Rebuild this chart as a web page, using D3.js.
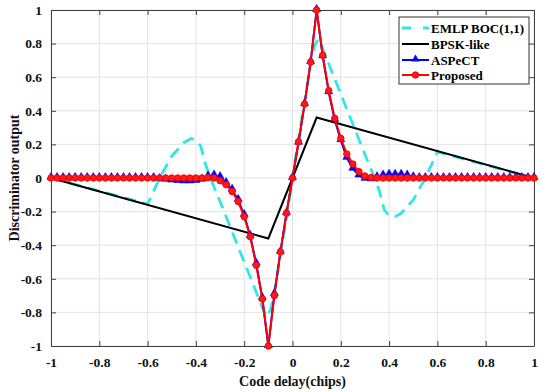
<!DOCTYPE html>
<html><head><meta charset="utf-8">
<script src="https://cdn.jsdelivr.net/npm/d3@7"></script>
<style>body{margin:0;background:#fff}svg{display:block}text{font-family:"Liberation Serif","Times New Roman",serif;font-weight:bold}</style>
</head><body><svg id="c" width="550" height="392"></svg>
<script>
// ---- data ----
const xTicks = [-1,-0.8,-0.6,-0.4,-0.2,0,0.2,0.4,0.6,0.8,1];
const yTicks = [-1,-0.8,-0.6,-0.4,-0.2,0,0.2,0.4,0.6,0.8,1];
const xLabel = "Code delay(chips)";
const yLabel = "Discriminator output";
const seriesNames = ["EMLP BOC(1,1)","BPSK-like","ASPeCT","Proposed"];

// EMLP BOC(1,1) curve (x, y)
const emlpX = [-1,-0.6,-0.55,-0.5,-0.45,-0.42,-0.4,-0.38,-0.36,-0.34,-0.3,-0.25,-0.2,-0.15,-0.12,-0.105,-0.09,-0.076,-0.053,-0.025,0,0.025,0.053,0.076,0.09,0.105,0.12,0.15,0.2,0.25,0.3,0.34,0.36,0.38,0.4,0.425,0.45,0.5,0.55,0.6,1];
const emlpY = [0,-0.155,0.0,0.13,0.21,0.235,0.225,0.19,0.08,0.0,-0.14,-0.32,-0.5,-0.68,-0.79,-0.825,-0.78,-0.69,-0.48,-0.24,0,0.24,0.48,0.69,0.78,0.825,0.79,0.68,0.5,0.32,0.14,0.0,-0.08,-0.19,-0.225,-0.23,-0.21,-0.13,0.0,0.155,0];

// BPSK-like
const bpskX = [-1,-0.1,0.1,1];
const bpskY = [0,-0.36,0.36,0];

// Sample grid for ASPeCT / Proposed : -1 .. 1 step 0.025 (81 points)
const sampleX = [-1,-0.975,-0.95,-0.925,-0.9,-0.875,-0.85,-0.825,-0.8,-0.775,-0.75,-0.725,-0.7,-0.675,-0.65,-0.625,-0.6,-0.575,-0.55,-0.525,-0.5,-0.475,-0.45,-0.425,-0.4,-0.375,-0.35,-0.325,-0.3,-0.275,-0.25,-0.225,-0.2,-0.175,-0.15,-0.125,-0.1,-0.075,-0.05,-0.025,0,0.025,0.05,0.075,0.1,0.125,0.15,0.175,0.2,0.225,0.25,0.275,0.3,0.325,0.35,0.375,0.4,0.425,0.45,0.475,0.5,0.525,0.55,0.575,0.6,0.625,0.65,0.675,0.7,0.725,0.75,0.775,0.8,0.825,0.85,0.875,0.9,0.925,0.95,0.975,1];
const aspectY = [0,0,0,0,0,0,0,0,0,0,0,0,0,0,0,0,0,0,-0.005,-0.01,-0.015,-0.018,-0.02,-0.02,-0.017,-0.01,0.01,0.015,0.005,-0.03,-0.07,-0.13,-0.22,-0.345,-0.51,-0.715,-1.0,-0.69,-0.44,-0.21,0,0.21,0.44,0.69,1.0,0.725,0.51,0.345,0.225,0.12,0.055,0.015,-0.005,-0.008,0.005,0.015,0.02,0.02,0.02,0.015,0.005,0,0,0,0,0,0,0,0,0,0,0,0,0,0,0,0,0,0,0,0];
const proposedY = [0,0,0,0,0,0,0,0,0,0,0,0,0,0,0,0,0,0,0,0,0,0,0,0,0,0,0.002,0,-0.016,-0.04,-0.08,-0.14,-0.23,-0.35,-0.52,-0.72,-1.0,-0.70,-0.44,-0.21,0,0.216,0.44,0.69,1.0,0.73,0.52,0.355,0.236,0.143,0.083,0.038,0.012,0.003,0,0,0,0,0,0,0,0,0,0,0,0,0,0,0,0,0,0,0,0,0,0,0,0,0,0,0];

// ---- drawing ----
const svg = d3.select("#c");
const L=51, R=534, T=10, B=346;
const x = d3.scaleLinear().domain([-1,1]).range([L,R]);
const y = d3.scaleLinear().domain([-1,1]).range([B,T]);

// grid
const g = svg.append("g");
g.selectAll("line.gx").data(xTicks).enter().append("line")
  .attr("x1",d=>x(d)).attr("x2",d=>x(d)).attr("y1",T).attr("y2",B)
  .attr("stroke","#e3e3e3").attr("stroke-width",1);
g.selectAll("line.gy").data(yTicks).enter().append("line")
  .attr("y1",d=>y(d)).attr("y2",d=>y(d)).attr("x1",L).attr("x2",R)
  .attr("stroke","#e3e3e3").attr("stroke-width",1);

// axes (inward ticks on all sides)
const axColor="#404040";
function styleAxis(sel){ sel.select(".domain").attr("stroke",axColor);
  sel.selectAll(".tick line").attr("stroke",axColor);
  sel.selectAll(".tick text").attr("fill","#111").style("font-size","13.5px").style("font-family","'Liberation Serif',serif").style("font-weight","bold"); }
const fmt = d=> String(d);
svg.append("g").attr("transform",`translate(0,${B})`)
  .call(d3.axisBottom(x).tickValues(xTicks).tickFormat(fmt).tickSizeInner(-5).tickSizeOuter(0).tickPadding(11))
  .call(styleAxis);
svg.append("g").attr("transform",`translate(0,${T})`)
  .call(d3.axisTop(x).tickValues(xTicks).tickFormat("").tickSizeInner(-5).tickSizeOuter(0))
  .call(styleAxis);
svg.append("g").attr("transform",`translate(${L},0)`)
  .call(d3.axisLeft(y).tickValues(yTicks).tickFormat(fmt).tickSizeInner(-5).tickSizeOuter(0).tickPadding(9))
  .call(styleAxis);
svg.append("g").attr("transform",`translate(${R},0)`)
  .call(d3.axisRight(y).tickValues(yTicks).tickFormat("").tickSizeInner(-5).tickSizeOuter(0))
  .call(styleAxis);

const line = d3.line().x(d=>x(d[0])).y(d=>y(d[1]));
const emlp = emlpX.map((v,i)=>[v,emlpY[i]]);
const bpsk = bpskX.map((v,i)=>[v,bpskY[i]]);
const asp = sampleX.map((v,i)=>[v,aspectY[i]]);
const prop = sampleX.map((v,i)=>[v,proposedY[i]]);

svg.append("path").attr("d",line(emlp)).attr("fill","none").attr("stroke","#33e6e6")
  .attr("stroke-width",2.8).attr("stroke-dasharray","12,7");
svg.append("path").attr("d",line(bpsk)).attr("fill","none").attr("stroke","#000").attr("stroke-width",2);
svg.append("path").attr("d",line(asp)).attr("fill","none").attr("stroke","#0000ff").attr("stroke-width",2);
const tri = d3.symbol().type(d3.symbolTriangle).size(28);
svg.append("g").selectAll("path").data(asp).enter().append("path")
  .attr("d",tri).attr("transform",d=>`translate(${x(d[0])},${y(d[1])-0.8})`)
  .attr("fill","#0000ff").attr("stroke","#0000ff").attr("stroke-width",0.6);
svg.append("path").attr("d",line(prop)).attr("fill","none").attr("stroke","#ff0000").attr("stroke-width",2);
svg.append("g").selectAll("circle").data(prop).enter().append("circle")
  .attr("cx",d=>x(d[0])).attr("cy",d=>y(d[1])).attr("r",3.2)
  .attr("fill","#ff1a1a").attr("stroke","#ff0000").attr("stroke-width",1);

// legend
const lg = svg.append("g");
const lx0=399, ly0=17, lw=130, lh=67;
lg.append("rect").attr("x",lx0).attr("y",ly0).attr("width",lw).attr("height",lh)
  .attr("fill","#fff").attr("stroke","#333").attr("stroke-width",1);
const rows=[28,44,60,75];
const sx1=402, sx2=429;
lg.append("line").attr("x1",sx1).attr("x2",sx2).attr("y1",rows[0]).attr("y2",rows[0])
  .attr("stroke","#33e6e6").attr("stroke-width",2.8).attr("stroke-dasharray","9,12");
lg.append("line").attr("x1",sx1).attr("x2",sx2).attr("y1",rows[1]).attr("y2",rows[1])
  .attr("stroke","#000").attr("stroke-width",2);
lg.append("line").attr("x1",sx1).attr("x2",sx2).attr("y1",rows[2]).attr("y2",rows[2])
  .attr("stroke","#0000ff").attr("stroke-width",2);
lg.append("path").attr("d",tri).attr("transform",`translate(${(sx1+sx2)/2},${rows[2]-0.8})`).attr("fill","#0000ff");
lg.append("line").attr("x1",sx1).attr("x2",sx2).attr("y1",rows[3]).attr("y2",rows[3])
  .attr("stroke","#ff0000").attr("stroke-width",2);
lg.append("circle").attr("cx",(sx1+sx2)/2).attr("cy",rows[3]).attr("r",3.2).attr("fill","#ff1a1a").attr("stroke","#f00");
lg.selectAll("text").data(seriesNames).enter().append("text")
  .attr("x",431).attr("y",(d,i)=>rows[i]).attr("dy","0.35em")
  .style("font-size","13px").attr("fill","#000").text(d=>d);

// axis labels
svg.append("text").attr("x",(L+R)/2).attr("y",381).attr("dy","0.35em").attr("text-anchor","middle")
  .style("font-size","14px").attr("fill","#111").text(xLabel);
svg.append("text").attr("transform",`translate(14,${(T+B)/2}) rotate(-90)`).attr("dy","0.35em")
  .attr("text-anchor","middle").style("font-size","14px").attr("fill","#111").text(yLabel);
</script></body></html>
